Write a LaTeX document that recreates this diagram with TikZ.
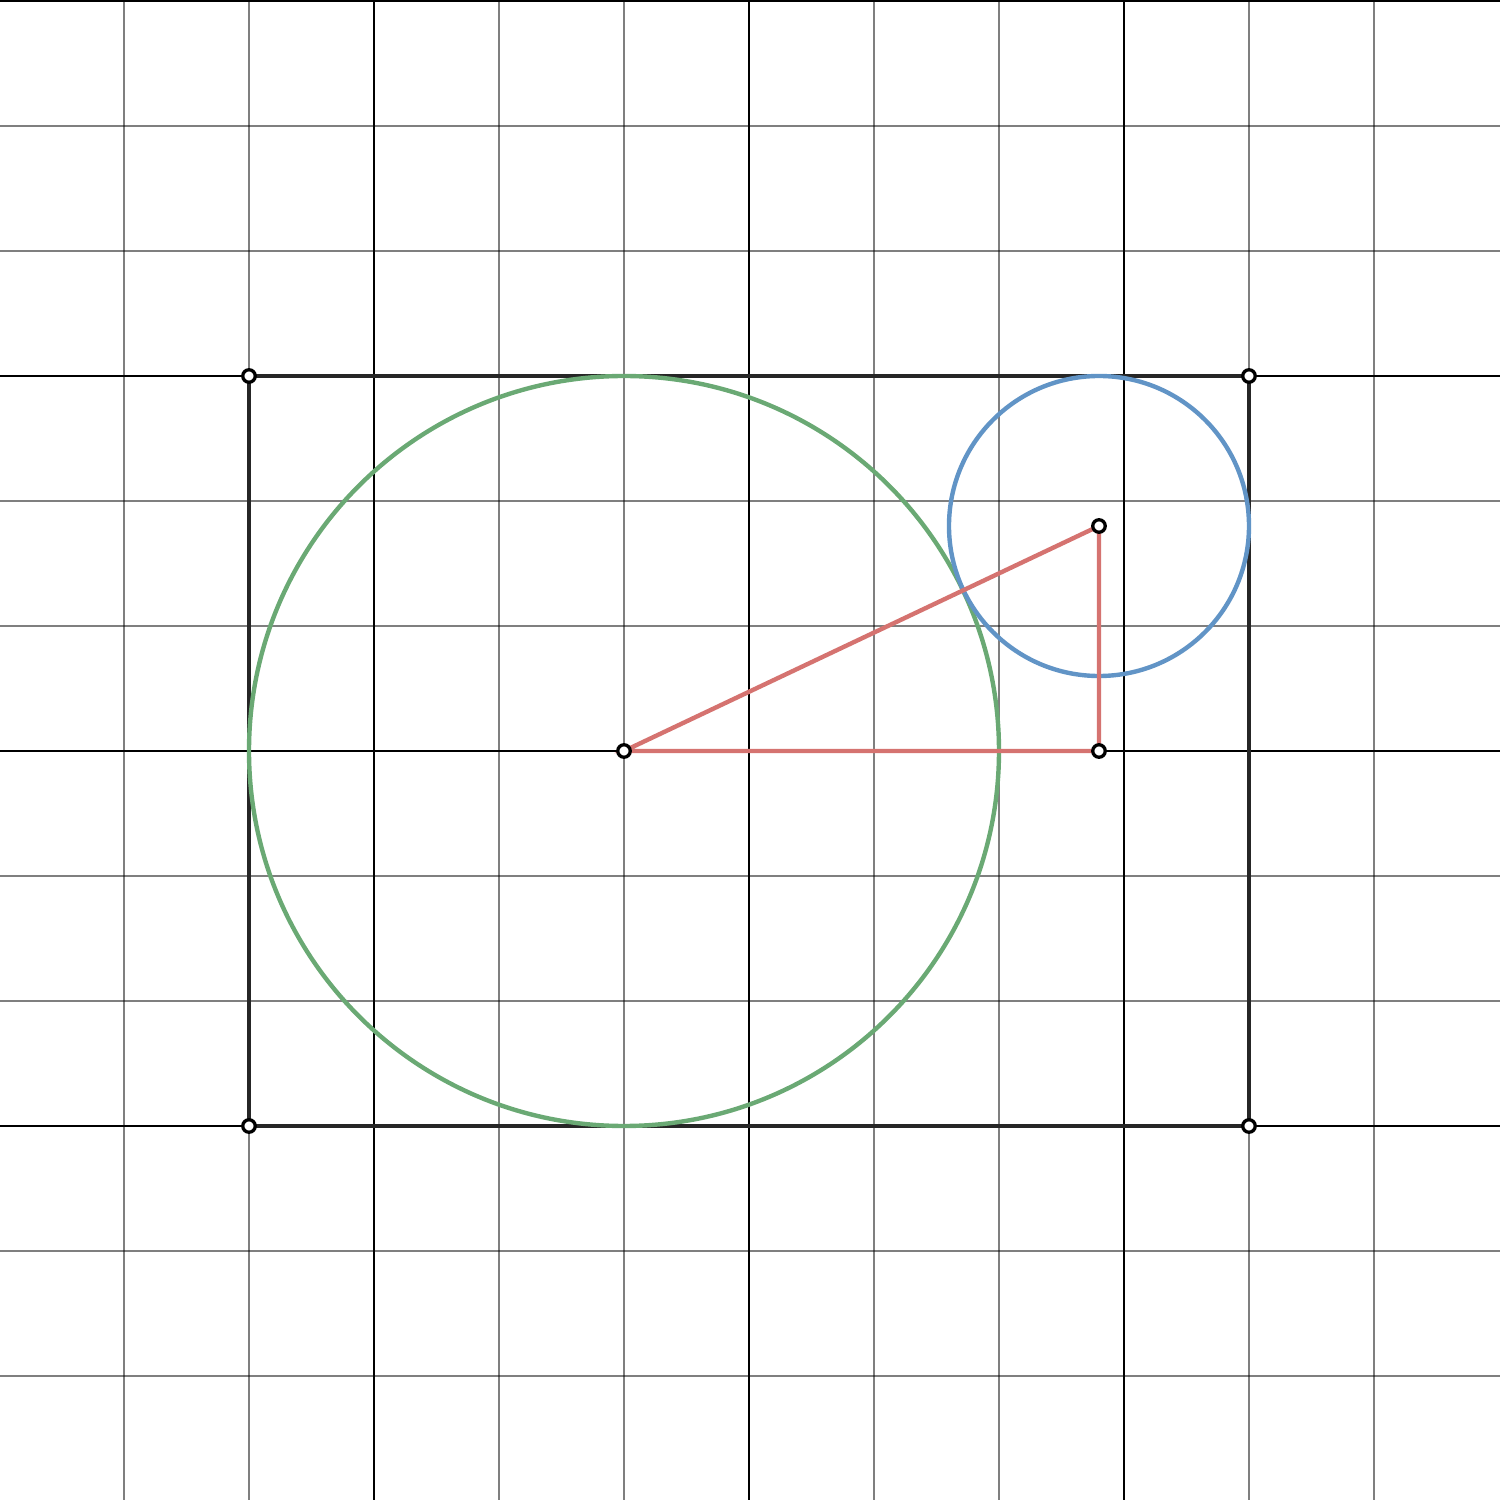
\documentclass[tikz,border=0pt]{standalone}
\usepackage{tikz}
\usetikzlibrary{calc}
\definecolor{mygreen}{RGB}{56,140,70}
\definecolor{myblue}{RGB}{45,112,179}
\definecolor{myred}{RGB}{199,68,64}
\tikzstyle{grid line}=[draw = black,line width=0.3,opacity=0.5]
\tikzstyle{grid line'}=[draw = black,line width=0.3]
\tikzstyle{frame}=[draw = black!85,line width=1.0]
\tikzstyle{curve}=[line width=1.0]
\tikzstyle{dot}=[draw = black,fill=white,line width=0.75]

\begin{document}
\begin{tikzpicture}

        \def\N{12} % number of grid cells
        \def\R{3} % radius, big circle
        \def\r{1.2} % radius, small circle
        \useasboundingbox (0.008,0.008) rectangle (\N+0.008,\N+0.008);
        \coordinate (O) at (5,6); % centre
        \coordinate (P) at (8.8,7.8); % centre, small circle
        \coordinate (Q) at (8.8,6); % foot
        \coordinate (A) at (2,3);
        \coordinate (B) at (10,3);
        \coordinate (C) at (10,9);
        \coordinate (D) at (2,9);

        % GRID
        \foreach \i in {1,...,11}{
          \draw[grid line] (\i,0) -- (\i,\N+0.1);
          \draw[grid line] (0,\i) -- (\N+0.1,\i);
        }
        \foreach \i in {3,6,9}{
          \draw[grid line'] (\i,0) -- (\i,\N+0.1);
          \draw[grid line'] (0,\i) -- (\N+0.1,\i);
        }
        \draw[grid line'] (0,\N) -- (\N+0.1,\N);

        % RECTANGLE
        \draw[frame] (A) -- (B) -- (C) -- (D) -- cycle;

        % CIRCLES
        \draw[curve,mygreen!75!white] (O) circle(\R);
        \draw[curve,myblue!75!white] (P) circle(\r);

        % TRIANGLE
        \draw[curve,myred!75!white] (O) -- (P) -- (Q) -- cycle;

        %points
        \foreach \p in {A,B,C,D,O,P,Q}{
          \draw[dot] (\p) circle(0.05);
        }

\end{tikzpicture}
\end{document}
